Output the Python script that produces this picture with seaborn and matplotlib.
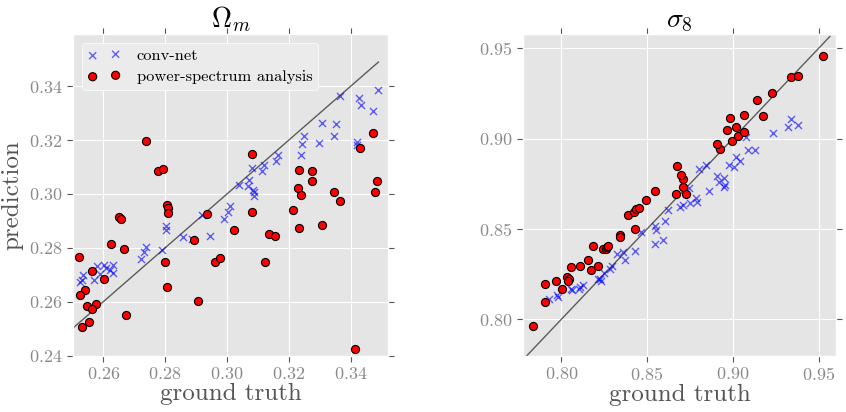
import numpy as np
import pandas as pd
import seaborn as sns
import matplotlib.pyplot as plt

# =============================================================================
# Data
# =============================================================================

# Omega_m panel
om_cnn_truth = [0.3489, 0.3428, 0.3433, 0.3473, 0.3365, 0.3308, 0.3352, 0.3347, 0.3298, 0.3250,
                0.3242, 0.3239, 0.3421, 0.3422, 0.3166, 0.3160, 0.3121, 0.3115, 0.3082, 0.3072,
                0.3069, 0.3040, 0.3085, 0.3087, 0.3088, 0.3010, 0.3002, 0.2991, 0.2918, 0.2945,
                0.2888, 0.2857, 0.2804, 0.2802, 0.2789, 0.2738, 0.2732, 0.2721, 0.2632, 0.2630,
                0.2609, 0.2602, 0.2578, 0.2571, 0.2589, 0.2535, 0.2525, 0.2531, 0.2622]
om_cnn_pred = [0.3388, 0.3358, 0.3330, 0.3308, 0.3363, 0.3262, 0.3260, 0.3215, 0.3190, 0.3214,
               0.3186, 0.3144, 0.3194, 0.3181, 0.3143, 0.3124, 0.3106, 0.3084, 0.3096, 0.3053,
               0.3031, 0.3034, 0.3016, 0.3006, 0.2991, 0.2954, 0.2933, 0.2908, 0.2921, 0.2843,
               0.2834, 0.2841, 0.2881, 0.2868, 0.2791, 0.2804, 0.2783, 0.2757, 0.2738, 0.2708,
               0.2724, 0.2736, 0.2734, 0.2681, 0.2703, 0.2698, 0.2674, 0.2680, 0.2716]

om_ps_truth = [0.2738, 0.2778, 0.2794, 0.3082, 0.3473, 0.3432, 0.3234, 0.3274, 0.3274, 0.3231,
               0.3239, 0.3347, 0.3367, 0.3487, 0.3480, 0.2807, 0.2810, 0.2810, 0.2652, 0.2658,
               0.2937, 0.3082, 0.3214, 0.3024, 0.3234, 0.3309, 0.3137, 0.3157, 0.2624, 0.2667,
               0.2522, 0.2894, 0.2962, 0.2977, 0.3124, 0.2798, 0.2563, 0.2603, 0.2807, 0.2542,
               0.2525, 0.2546, 0.2576, 0.2563, 0.2905, 0.2673, 0.2554, 0.2531, 0.3415]
om_ps_pred = [0.3197, 0.3086, 0.3092, 0.3149, 0.3228, 0.3171, 0.3090, 0.3086, 0.3049, 0.3022,
              0.2996, 0.3007, 0.2973, 0.3048, 0.3007, 0.2958, 0.2949, 0.2929, 0.2914, 0.2906,
              0.2924, 0.2934, 0.2939, 0.2868, 0.2873, 0.2886, 0.2853, 0.2843, 0.2814, 0.2794,
              0.2767, 0.2828, 0.2746, 0.2761, 0.2747, 0.2746, 0.2714, 0.2683, 0.2654, 0.2644,
              0.2624, 0.2585, 0.2591, 0.2572, 0.2603, 0.2550, 0.2526, 0.2506, 0.2425]

om_line = [0.2503, 0.3490]

# sigma_8 panel
s8_cnn_truth = [0.7928, 0.7973, 0.7981, 0.8054, 0.8064, 0.8103, 0.8112, 0.8128, 0.8213, 0.8223,
                0.8233, 0.8248, 0.8283, 0.8297, 0.8326, 0.8359, 0.8374, 0.8428, 0.8467, 0.8548,
                0.8554, 0.8548, 0.8593, 0.8603, 0.8622, 0.8690, 0.8710, 0.8749, 0.8787, 0.8790,
                0.8743, 0.8859, 0.8920, 0.8947, 0.8957, 0.8908, 0.8951, 0.8803, 0.8844, 0.8978,
                0.9007, 0.9021, 0.9040, 0.9087, 0.9129, 0.9075, 0.9234, 0.9322, 0.9339, 0.9382]
s8_cnn_pred = [0.8115, 0.8135, 0.8126, 0.8169, 0.8163, 0.8170, 0.8178, 0.8191, 0.8222, 0.8225,
               0.8215, 0.8256, 0.8281, 0.8296, 0.8363, 0.8374, 0.8326, 0.8380, 0.8481, 0.8515,
               0.8493, 0.8419, 0.8437, 0.8546, 0.8607, 0.8622, 0.8635, 0.8645, 0.8673, 0.8649,
               0.8729, 0.8708, 0.8762, 0.8734, 0.8742, 0.8794, 0.8781, 0.8833, 0.8855, 0.8855,
               0.8842, 0.8896, 0.8875, 0.8938, 0.8938, 0.9007, 0.9031, 0.9064, 0.9109, 0.9077]

s8_ps_truth = [0.7835, 0.7907, 0.7905, 0.7971, 0.8006, 0.8031, 0.8045, 0.8041, 0.8058, 0.8110,
               0.8155, 0.8176, 0.8215, 0.8184, 0.8244, 0.8258, 0.8264, 0.8271, 0.8341, 0.8341,
               0.8432, 0.8388, 0.8422, 0.8436, 0.8455, 0.8494, 0.8548, 0.8671, 0.8729, 0.8710,
               0.8708, 0.8698, 0.8675, 0.8925, 0.8908, 0.8995, 0.9028, 0.9067, 0.8964, 0.9017,
               0.8982, 0.9176, 0.9063, 0.9139, 0.9228, 0.9339, 0.9378, 0.9524]
s8_ps_pred = [0.7965, 0.8094, 0.8196, 0.8213, 0.8169, 0.8233, 0.8222, 0.8215, 0.8291, 0.8294,
              0.8330, 0.8274, 0.8296, 0.8404, 0.8389, 0.8389, 0.8400, 0.8407, 0.8469, 0.8456,
              0.8502, 0.8580, 0.8594, 0.8613, 0.8615, 0.8663, 0.8710, 0.8695, 0.8695, 0.8731,
              0.8775, 0.8797, 0.8846, 0.8944, 0.8970, 0.8988, 0.9016, 0.9037, 0.9048, 0.9064,
              0.9114, 0.9127, 0.9133, 0.9216, 0.9253, 0.9342, 0.9348, 0.9457]

s8_line = [0.7790, 0.9565]

# =============================================================================
# Style
# =============================================================================

plt.style.use('ggplot')
plt.rcParams['font.family'] = 'serif'
plt.rcParams['font.serif'] = ['cmr10', 'DejaVu Serif']
plt.rcParams['mathtext.fontset'] = 'cm'
plt.rcParams['axes.formatter.use_mathtext'] = True
plt.rcParams['axes.unicode_minus'] = False

fig = plt.figure(figsize=(8.46, 4.12), dpi=100)
ax1 = fig.add_axes([0.0863, 0.137, 0.3723, 0.781])
ax2 = fig.add_axes([0.6182, 0.137, 0.3700, 0.781])


def draw_panel(ax, cnn_t, cnn_p, ps_t, ps_p, line, title, legend):
    dcnn = pd.DataFrame({'truth': cnn_t, 'pred': cnn_p})
    dps = pd.DataFrame({'truth': ps_t, 'pred': ps_p})

    sns.scatterplot(data=dcnn, x='truth', y='pred', ax=ax, marker='x', color='blue',
                    alpha=0.6, s=26, linewidth=1.0, label='conv-net', zorder=3)
    sns.scatterplot(data=dps, x='truth', y='pred', ax=ax, marker='o', color='red',
                    edgecolor='black', linewidth=0.8, s=34, label='power-spectrum analysis',
                    zorder=4)
    ax.plot(line, line, color='black', alpha=0.6, lw=1, zorder=2)

    ax.set_title(title, fontsize=20, color='black', pad=5)
    ax.set_xlabel('ground truth', fontsize=18, color='#555555', labelpad=1)
    ax.tick_params(axis='both', labelsize=13, labelcolor='#8a8a8a', color='#555555',
                   direction='out', top=True, right=True, length=4)
    if legend:
        leg = ax.legend(loc='upper left', scatterpoints=2, fontsize=11.8,
                        facecolor='#EBEBEB', edgecolor='white', framealpha=1,
                        borderaxespad=0.55, borderpad=0.35, labelspacing=0.4,
                        handletextpad=1.0)
        for t in leg.get_texts():
            t.set_color('black')
    else:
        ax.get_legend().remove()


draw_panel(ax1, om_cnn_truth, om_cnn_pred, om_ps_truth, om_ps_pred, om_line,
           r'$\Omega_m$', True)
ax1.set_xlim(0.2502, 0.3521)
ax1.set_ylim(0.24, 0.3595)
ax1.set_xticks([0.26, 0.28, 0.30, 0.32, 0.34])
ax1.set_yticks([0.24, 0.26, 0.28, 0.30, 0.32, 0.34])
ax1.set_ylabel('prediction', fontsize=18, color='#555555', labelpad=4)

draw_panel(ax2, s8_cnn_truth, s8_cnn_pred, s8_ps_truth, s8_ps_pred, s8_line,
           r'$\sigma_8$', False)
ax2.set_xlim(0.7777, 0.9601)
ax2.set_ylim(0.780, 0.958)
ax2.set_xticks([0.80, 0.85, 0.90, 0.95])
ax2.set_yticks([0.80, 0.85, 0.90, 0.95])
ax2.set_ylabel('')

fig.savefig('out.png', dpi=100)
